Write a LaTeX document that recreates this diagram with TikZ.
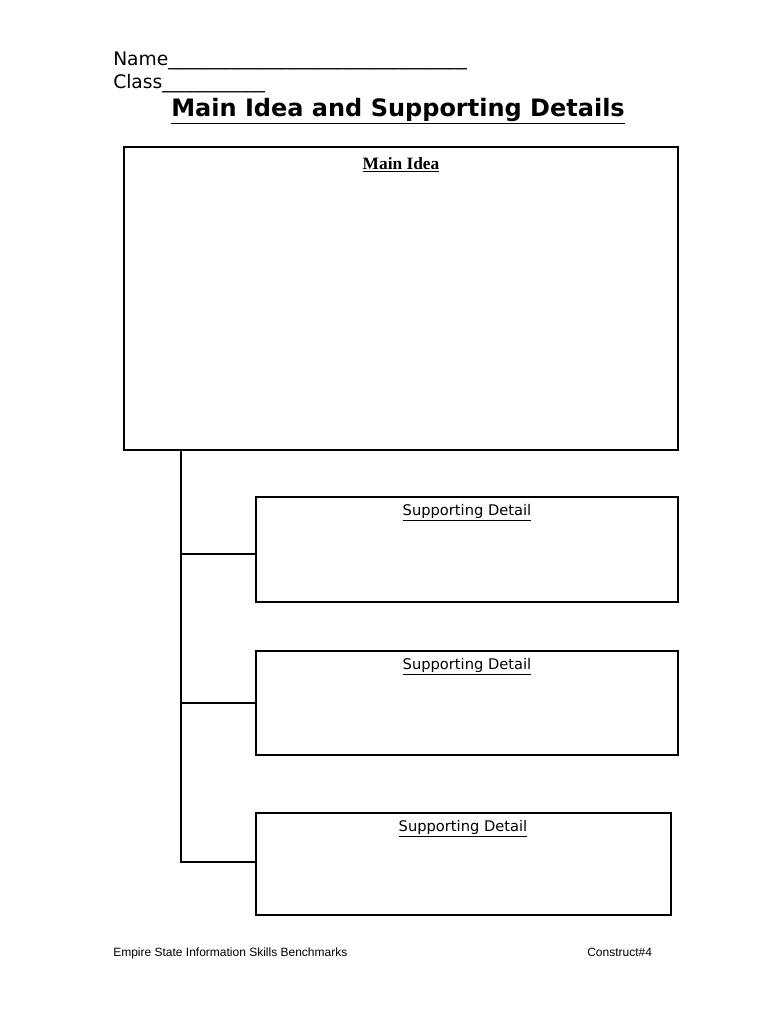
\documentclass[tikz,border=0pt]{standalone}
\usepackage{fontspec}
\setmainfont{DejaVu Sans}
\newfontfamily\serifbold{Liberation Serif}
\newfontfamily\footfont{Liberation Sans}
\usetikzlibrary{positioning}
\newcommand{\blanks}[1]{\foreach \k in {1,...,#1}{\_}}

\begin{document}
\begin{tikzpicture}[
  x=0.75pt, y=-0.75pt,
  box/.style={draw, line width=2.2pt},
  link/.style={line width=2.2pt},
  heading/.style={anchor=north, inner sep=0pt, font=\fontsize{11}{13}\selectfont}
]
  \useasboundingbox (0,0) rectangle (768,1024);
  % header
  \node[anchor=base west, inner sep=0pt, font=\fontsize{14}{16}\selectfont] (name) at (113,65) {Name\blanks{32}};
  \node[anchor=base west, inner sep=0pt, font=\fontsize{14}{16}\selectfont] (class) at (113,89) {Class\blanks{11}};
  \node[anchor=base, inner sep=0pt, font=\fontsize{18}{20}\selectfont\bfseries] (title) at (398,116) {\underline{Main Idea and Supporting Details}};
  % boxes
  \draw[box] (124,147) rectangle (678,450);
  \coordinate (mainbot) at (181,450);
  \node[heading, font=\fontsize{13}{15}\selectfont\serifbold\bfseries] (main) at (401,157) {\underline{Main Idea}};
  \draw[box] (256,497) rectangle (678,602);
  \draw[box] (256,651) rectangle (678,755);
  \draw[box] (256,813) rectangle (671,915);
  \node[heading] (d1) at (467,504) {\underline{Supporting Detail}};
  \node[heading] (d2) at (467,658) {\underline{Supporting Detail}};
  \node[heading] (d3) at (463,820) {\underline{Supporting Detail}};
  % connectors
  \coordinate (b1) at (256,554);
  \coordinate (b2) at (256,703);
  \coordinate (b3) at (256,862);
  \draw[link] (mainbot) |- (b3);
  \draw[link] (mainbot |- b1) -- (b1);
  \draw[link] (mainbot |- b2) -- (b2);
  % footer
  \node[anchor=base west, inner sep=0pt, font=\fontsize{9}{11}\footfont] (foot) at (113,956) {Empire State Information Skills Benchmarks};
  \node[anchor=base west, inner sep=0pt, font=\fontsize{9}{11}\footfont] (cons) at (587,956) {Construct\#4};
\end{tikzpicture}
\end{document}
